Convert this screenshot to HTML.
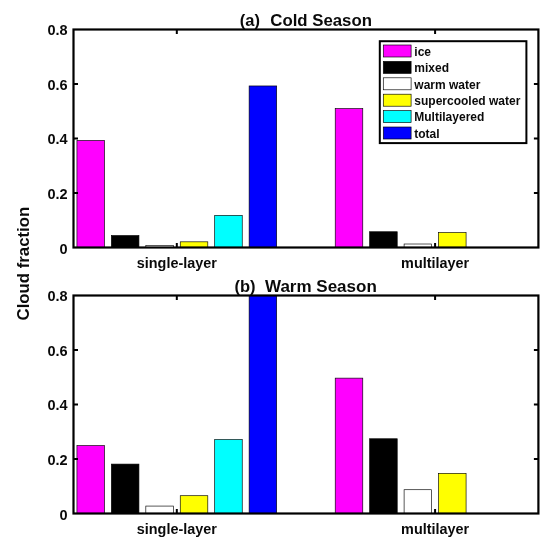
<!DOCTYPE html>
<html><head><meta charset="utf-8"><title>Cloud fraction</title>
<style>html,body{margin:0;padding:0;background:#fff}svg{display:block}text{fill:#0a0a0a}</style></head>
<body>
<svg width="550" height="547" viewBox="0 0 550 547">
<rect width="550" height="547" fill="#fff"/>
<rect x="76.94" y="140.46" width="27.55" height="107.04" fill="#ff00ff" stroke="#000" stroke-width="0.65"/>
<rect x="111.38" y="235.56" width="27.55" height="11.94" fill="#000000" stroke="#000" stroke-width="0.65"/>
<rect x="145.82" y="245.38" width="27.55" height="2.12" fill="#ffffff" stroke="#000" stroke-width="0.65"/>
<rect x="180.25" y="241.83" width="27.55" height="5.67" fill="#ffff00" stroke="#000" stroke-width="0.65"/>
<rect x="214.69" y="215.40" width="27.55" height="32.10" fill="#00ffff" stroke="#000" stroke-width="0.65"/>
<rect x="249.13" y="85.96" width="27.55" height="161.54" fill="#0000ff" stroke="#000" stroke-width="0.65"/>
<rect x="335.22" y="108.58" width="27.55" height="138.92" fill="#ff00ff" stroke="#000" stroke-width="0.65"/>
<rect x="369.66" y="231.75" width="27.55" height="15.75" fill="#000000" stroke="#000" stroke-width="0.65"/>
<rect x="404.10" y="244.01" width="27.55" height="3.49" fill="#ffffff" stroke="#000" stroke-width="0.65"/>
<rect x="438.53" y="232.57" width="27.55" height="14.93" fill="#ffff00" stroke="#000" stroke-width="0.65"/>
<rect x="73.5" y="29.5" width="464.90" height="218.0" fill="none" stroke="#000" stroke-width="2.2"/>
<text x="67.6" y="253.90" font-size="14.5" text-anchor="end" font-family="'Liberation Sans', Arial, Helvetica, sans-serif" font-weight="bold">0</text>
<path d="M73.5 193.00h4.5M538.4 193.00h-4.5" stroke="#000" stroke-width="2"/>
<text x="67.6" y="198.75" font-size="14.5" text-anchor="end" font-family="'Liberation Sans', Arial, Helvetica, sans-serif" font-weight="bold">0.2</text>
<path d="M73.5 138.50h4.5M538.4 138.50h-4.5" stroke="#000" stroke-width="2"/>
<text x="67.6" y="144.25" font-size="14.5" text-anchor="end" font-family="'Liberation Sans', Arial, Helvetica, sans-serif" font-weight="bold">0.4</text>
<path d="M73.5 84.00h4.5M538.4 84.00h-4.5" stroke="#000" stroke-width="2"/>
<text x="67.6" y="89.75" font-size="14.5" text-anchor="end" font-family="'Liberation Sans', Arial, Helvetica, sans-serif" font-weight="bold">0.6</text>
<text x="67.6" y="35.25" font-size="14.5" text-anchor="end" font-family="'Liberation Sans', Arial, Helvetica, sans-serif" font-weight="bold">0.8</text>
<path d="M176.81 247.5v-4.5M176.81 29.5v4.5" stroke="#000" stroke-width="2"/>
<text x="176.81" y="267.85" font-size="14.4" text-anchor="middle" font-family="'Liberation Sans', Arial, Helvetica, sans-serif" font-weight="bold">single-layer</text>
<path d="M435.09 247.5v-4.5M435.09 29.5v4.5" stroke="#000" stroke-width="2"/>
<text x="435.09" y="267.85" font-size="14.4" text-anchor="middle" font-family="'Liberation Sans', Arial, Helvetica, sans-serif" font-weight="bold">multilayer</text>
<text x="239.8" y="25.5" font-size="16.5" font-family="'Liberation Sans', Arial, Helvetica, sans-serif" font-weight="bold">(a)</text>
<text x="270.3" y="25.5" font-size="16.8" font-family="'Liberation Sans', Arial, Helvetica, sans-serif" font-weight="bold">Cold Season</text>
<rect x="76.94" y="445.57" width="27.55" height="67.93" fill="#ff00ff" stroke="#000" stroke-width="0.65"/>
<rect x="111.38" y="464.10" width="27.55" height="49.40" fill="#000000" stroke="#000" stroke-width="0.65"/>
<rect x="145.82" y="506.07" width="27.55" height="7.43" fill="#ffffff" stroke="#000" stroke-width="0.65"/>
<rect x="180.25" y="495.71" width="27.55" height="17.79" fill="#ffff00" stroke="#000" stroke-width="0.65"/>
<rect x="214.69" y="439.58" width="27.55" height="73.92" fill="#00ffff" stroke="#000" stroke-width="0.65"/>
<rect x="249.13" y="295.50" width="27.55" height="218.00" fill="#0000ff" stroke="#000" stroke-width="0.65"/>
<rect x="335.22" y="378.13" width="27.55" height="135.37" fill="#ff00ff" stroke="#000" stroke-width="0.65"/>
<rect x="369.66" y="438.76" width="27.55" height="74.74" fill="#000000" stroke="#000" stroke-width="0.65"/>
<rect x="404.10" y="489.72" width="27.55" height="23.78" fill="#ffffff" stroke="#000" stroke-width="0.65"/>
<rect x="438.53" y="473.37" width="27.55" height="40.13" fill="#ffff00" stroke="#000" stroke-width="0.65"/>
<rect x="73.5" y="295.5" width="464.90" height="218.0" fill="none" stroke="#000" stroke-width="2.2"/>
<text x="67.6" y="519.90" font-size="14.5" text-anchor="end" font-family="'Liberation Sans', Arial, Helvetica, sans-serif" font-weight="bold">0</text>
<path d="M73.5 459.00h4.5M538.4 459.00h-4.5" stroke="#000" stroke-width="2"/>
<text x="67.6" y="464.75" font-size="14.5" text-anchor="end" font-family="'Liberation Sans', Arial, Helvetica, sans-serif" font-weight="bold">0.2</text>
<path d="M73.5 404.50h4.5M538.4 404.50h-4.5" stroke="#000" stroke-width="2"/>
<text x="67.6" y="410.25" font-size="14.5" text-anchor="end" font-family="'Liberation Sans', Arial, Helvetica, sans-serif" font-weight="bold">0.4</text>
<path d="M73.5 350.00h4.5M538.4 350.00h-4.5" stroke="#000" stroke-width="2"/>
<text x="67.6" y="355.75" font-size="14.5" text-anchor="end" font-family="'Liberation Sans', Arial, Helvetica, sans-serif" font-weight="bold">0.6</text>
<text x="67.6" y="301.25" font-size="14.5" text-anchor="end" font-family="'Liberation Sans', Arial, Helvetica, sans-serif" font-weight="bold">0.8</text>
<path d="M176.81 513.5v-4.5M176.81 295.5v4.5" stroke="#000" stroke-width="2"/>
<text x="176.81" y="533.85" font-size="14.4" text-anchor="middle" font-family="'Liberation Sans', Arial, Helvetica, sans-serif" font-weight="bold">single-layer</text>
<path d="M435.09 513.5v-4.5M435.09 295.5v4.5" stroke="#000" stroke-width="2"/>
<text x="435.09" y="533.85" font-size="14.4" text-anchor="middle" font-family="'Liberation Sans', Arial, Helvetica, sans-serif" font-weight="bold">multilayer</text>
<text x="234.5" y="291.5" font-size="16.5" font-family="'Liberation Sans', Arial, Helvetica, sans-serif" font-weight="bold">(b)</text>
<text x="265" y="291.5" font-size="17" font-family="'Liberation Sans', Arial, Helvetica, sans-serif" font-weight="bold">Warm Season</text>
<rect x="379.8" y="41.2" width="146.6" height="101.9" fill="#fff" stroke="#000" stroke-width="2"/>
<rect x="383.3" y="45.00" width="27.8" height="12" fill="#ff00ff" stroke="#000" stroke-width="0.65"/>
<text x="414.3" y="55.85" font-size="12" font-family="'Liberation Sans', Arial, Helvetica, sans-serif" font-weight="bold">ice</text>
<rect x="383.3" y="61.40" width="27.8" height="12" fill="#000000" stroke="#000" stroke-width="0.65"/>
<text x="414.3" y="72.25" font-size="12" font-family="'Liberation Sans', Arial, Helvetica, sans-serif" font-weight="bold">mixed</text>
<rect x="383.3" y="77.80" width="27.8" height="12" fill="#ffffff" stroke="#000" stroke-width="0.65"/>
<text x="414.3" y="88.65" font-size="12" font-family="'Liberation Sans', Arial, Helvetica, sans-serif" font-weight="bold">warm water</text>
<rect x="383.3" y="94.20" width="27.8" height="12" fill="#ffff00" stroke="#000" stroke-width="0.65"/>
<text x="414.3" y="105.05" font-size="12" font-family="'Liberation Sans', Arial, Helvetica, sans-serif" font-weight="bold">supercooled water</text>
<rect x="383.3" y="110.60" width="27.8" height="12" fill="#00ffff" stroke="#000" stroke-width="0.65"/>
<text x="414.3" y="121.45" font-size="12" font-family="'Liberation Sans', Arial, Helvetica, sans-serif" font-weight="bold">Multilayered</text>
<rect x="383.3" y="127.00" width="27.8" height="12" fill="#0000ff" stroke="#000" stroke-width="0.65"/>
<text x="414.3" y="137.85" font-size="12" font-family="'Liberation Sans', Arial, Helvetica, sans-serif" font-weight="bold">total</text>
<text transform="translate(29.4 263.6) rotate(-90)" font-size="16.8" text-anchor="middle" font-family="'Liberation Sans', Arial, Helvetica, sans-serif" font-weight="bold">Cloud fraction</text>
</svg>
</body></html>
